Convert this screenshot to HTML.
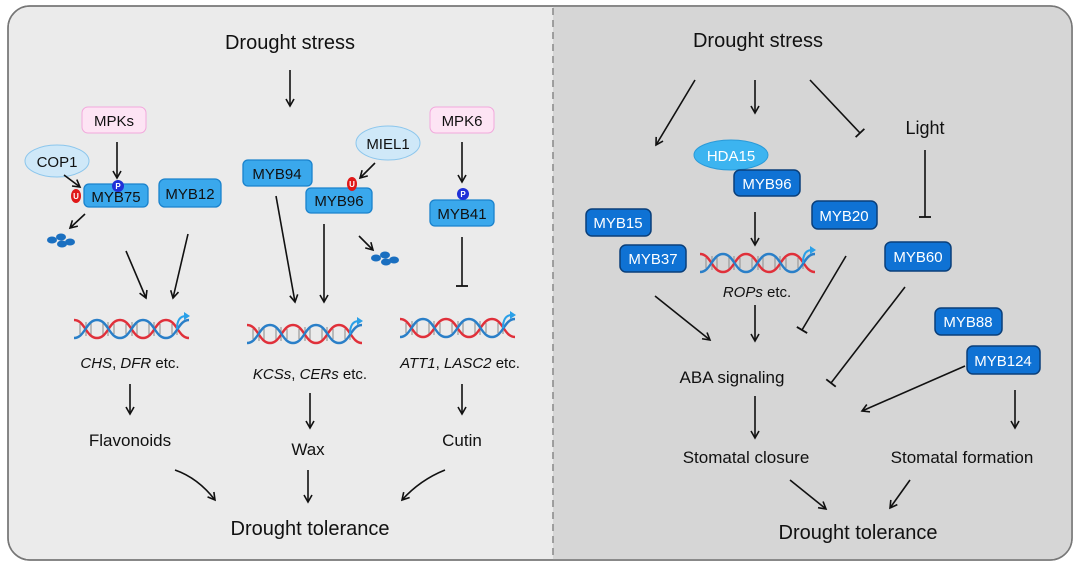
<!DOCTYPE html>
<html><head><meta charset="utf-8"><style>
html,body{margin:0;padding:0;background:#fff;}
svg{display:block;font-family:"Liberation Sans",Arial,sans-serif;}
</style></head><body>
<svg width="1080" height="566" viewBox="0 0 1080 566" xmlns="http://www.w3.org/2000/svg">
<defs>
<marker id="ah" markerWidth="10" markerHeight="10" refX="8" refY="5" orient="auto" markerUnits="userSpaceOnUse">
<path d="M1,1 L8,5 L1,9" fill="none" stroke="#111" stroke-width="1.6"/></marker>
<marker id="tb" markerWidth="14" markerHeight="14" refX="7" refY="7" orient="auto" markerUnits="userSpaceOnUse">
<path d="M7,1 L7,13" stroke="#111" stroke-width="1.8"/></marker>
<g id="dna">
<g stroke="#999" stroke-width="1.2">
<path d="M6,8V18M12,6V20M17,7V19M29,7V19M34,6V20M40,8V18M52,8V18M58,6V20M63,7V19M75,7V19M80,6V20M86,8V18M98,8V18M103,7V19"/>
</g>
<path d="M0,4 C11,4 12,22 23,22 S35,4 46,4 S58,22 69,22 S81,4 92,4 S104,22 115,22" fill="none" stroke="#e0303a" stroke-width="2.4"/>
<path d="M0,22 C11,22 12,4 23,4 S35,22 46,22 S58,4 69,4 S81,22 92,22 S104,4 115,4" fill="none" stroke="#2a7fc8" stroke-width="2.4"/>
<path d="M103,13 C103,4 106,0 112,0" fill="none" stroke="#2aa0e8" stroke-width="2"/>
<path d="M110,-4 L116,0 L110,4Z" fill="#2aa0e8"/>
</g>
<g id="blob" fill="#1a6fc0">
<ellipse cx="0" cy="0" rx="5" ry="3.5"/><ellipse cx="9" cy="-3" rx="5" ry="3.5"/><ellipse cx="10" cy="4" rx="5" ry="3.5"/><ellipse cx="18" cy="2" rx="5" ry="3.5"/>
</g>
</defs>
<rect x="8" y="6" width="1064" height="554" rx="22" fill="#ebebeb" stroke="#777" stroke-width="1.5"/>
<path d="M553,6.75 L1050,6.75 Q1071.25,6.75 1071.25,28 L1071.25,538 Q1071.25,559.25 1050,559.25 L553,559.25Z" fill="#d6d6d6"/>
<rect x="8" y="6" width="1064" height="554" rx="22" fill="none" stroke="#777" stroke-width="1.5"/>
<line x1="553" y1="8" x2="553" y2="558" stroke="#888" stroke-width="1.5" stroke-dasharray="7,5"/>

<g font-size="20" fill="#111" text-anchor="middle">
<text x="290" y="49">Drought stress</text>
<text x="310" y="535">Drought tolerance</text>
<text x="758" y="47">Drought stress</text>
<text x="858" y="539">Drought tolerance</text>
</g>
<g font-size="17" fill="#111" text-anchor="middle">
<text x="130" y="446">Flavonoids</text>
<text x="308" y="455">Wax</text>
<text x="462" y="446">Cutin</text>
<text x="925" y="134" font-size="18">Light</text>
<text x="732" y="383">ABA signaling</text>
<text x="746" y="463">Stomatal closure</text>
<text x="962" y="463">Stomatal formation</text>
</g>
<g font-size="15" fill="#111" text-anchor="middle" font-style="italic">
<text x="130" y="368">CHS<tspan font-style="normal">, </tspan>DFR<tspan font-style="normal"> etc.</tspan></text>
<text x="310" y="379">KCSs<tspan font-style="normal">, </tspan>CERs<tspan font-style="normal"> etc.</tspan></text>
<text x="460" y="368">ATT1<tspan font-style="normal">, </tspan>LASC2<tspan font-style="normal"> etc.</tspan></text>
<text x="757" y="297">ROPs<tspan font-style="normal"> etc.</tspan></text>
</g>

<use href="#dna" x="74" y="316"/>
<use href="#dna" x="247" y="321"/>
<use href="#dna" x="400" y="315"/>
<use href="#dna" x="700" y="250"/>
<use href="#blob" x="52" y="240"/>
<use href="#blob" x="376" y="258"/>

<!-- left boxes -->
<g font-size="15" text-anchor="middle" fill="#111">
<rect x="82" y="107" width="64" height="26" rx="6" fill="#fde4f4" stroke="#f2a8dc"/>
<text x="114" y="126">MPKs</text>
<rect x="430" y="107" width="64" height="26" rx="6" fill="#fde4f4" stroke="#f2a8dc"/>
<text x="462" y="126">MPK6</text>
<ellipse cx="57" cy="161" rx="32" ry="16" fill="#cfe8f8" stroke="#8cc6ec"/>
<text x="57" y="167">COP1</text>
<ellipse cx="388" cy="143" rx="32" ry="17" fill="#cfe8f8" stroke="#8cc6ec"/>
<text x="388" y="149">MIEL1</text>
<g fill="#3aa8ec" stroke="#1a82cc" stroke-width="1.3">
<rect x="84" y="184" width="64" height="23" rx="5"/>
<rect x="159" y="179" width="62" height="28" rx="6"/>
<rect x="243" y="160" width="69" height="26" rx="5"/>
<rect x="306" y="188" width="66" height="25" rx="5"/>
<rect x="430" y="200" width="64" height="26" rx="5"/>
</g>
<text x="116" y="202">MYB75</text>
<text x="190" y="199">MYB12</text>
<text x="277" y="179">MYB94</text>
<text x="339" y="206">MYB96</text>
<text x="462" y="219">MYB41</text>
</g>
<g font-size="8" fill="#fff" text-anchor="middle" font-weight="bold">
<ellipse cx="118" cy="186" rx="6" ry="6" fill="#2030d8"/><text x="118" y="189">P</text>
<ellipse cx="463" cy="194" rx="6" ry="6" fill="#2030d8"/><text x="463" y="197">P</text>
<ellipse cx="76" cy="196" rx="5" ry="7" fill="#e01818"/><text x="76" y="199">U</text>
<ellipse cx="352" cy="184" rx="5" ry="7" fill="#e01818"/><text x="352" y="187">U</text>
</g>

<!-- right boxes -->
<g font-size="15" text-anchor="middle" fill="#fff">
<ellipse cx="731" cy="155" rx="37" ry="15" fill="#3cb4f0" stroke="#2a9ad8"/>
<text x="731" y="161">HDA15</text>
<g fill="#0f72d4" stroke="#0a3f7a" stroke-width="1.5">
<rect x="734" y="170" width="66" height="26" rx="6"/>
<rect x="586" y="209" width="65" height="27" rx="6"/>
<rect x="620" y="245" width="66" height="27" rx="6"/>
<rect x="812" y="201" width="65" height="28" rx="6"/>
<rect x="885" y="242" width="66" height="29" rx="6"/>
<rect x="935" y="308" width="67" height="27" rx="6"/>
<rect x="967" y="346" width="73" height="28" rx="6"/>
</g>
<text x="767" y="189">MYB96</text>
<text x="618" y="228">MYB15</text>
<text x="653" y="264">MYB37</text>
<text x="844" y="221">MYB20</text>
<text x="918" y="262">MYB60</text>
<text x="968" y="327">MYB88</text>
<text x="1003" y="366">MYB124</text>
</g>

<g stroke="#111" stroke-width="1.6" fill="none">
<!-- left arrows -->
<line x1="290" y1="70" x2="290" y2="106" marker-end="url(#ah)"/>
<line x1="117" y1="142" x2="117" y2="178" marker-end="url(#ah)"/>
<line x1="64" y1="175" x2="80" y2="187" marker-end="url(#ah)"/>
<line x1="85" y1="214" x2="70" y2="228" marker-end="url(#ah)"/>
<line x1="126" y1="251" x2="146" y2="298" marker-end="url(#ah)"/>
<line x1="188" y1="234" x2="173" y2="298" marker-end="url(#ah)"/>
<line x1="276" y1="196" x2="295" y2="302" marker-end="url(#ah)"/>
<line x1="324" y1="224" x2="324" y2="302" marker-end="url(#ah)"/>
<line x1="375" y1="163" x2="360" y2="178" marker-end="url(#ah)"/>
<line x1="359" y1="236" x2="373" y2="250" marker-end="url(#ah)"/>
<line x1="462" y1="142" x2="462" y2="182" marker-end="url(#ah)"/>
<line x1="462" y1="237" x2="462" y2="286" marker-end="url(#tb)"/>
<line x1="130" y1="384" x2="130" y2="414" marker-end="url(#ah)"/>
<line x1="310" y1="393" x2="310" y2="428" marker-end="url(#ah)"/>
<line x1="462" y1="384" x2="462" y2="414" marker-end="url(#ah)"/>
<path d="M175,470 Q198,478 215,500" marker-end="url(#ah)"/>
<line x1="308" y1="470" x2="308" y2="502" marker-end="url(#ah)"/>
<path d="M445,470 Q420,480 402,500" marker-end="url(#ah)"/>
<!-- right arrows -->
<line x1="695" y1="80" x2="656" y2="145" marker-end="url(#ah)"/>
<line x1="755" y1="80" x2="755" y2="113" marker-end="url(#ah)"/>
<line x1="810" y1="80" x2="860" y2="133" marker-end="url(#tb)"/>
<line x1="925" y1="150" x2="925" y2="217" marker-end="url(#tb)"/>
<line x1="755" y1="212" x2="755" y2="245" marker-end="url(#ah)"/>
<line x1="655" y1="296" x2="710" y2="340" marker-end="url(#ah)"/>
<line x1="755" y1="305" x2="755" y2="341" marker-end="url(#ah)"/>
<line x1="846" y1="256" x2="802" y2="330" marker-end="url(#tb)"/>
<line x1="905" y1="287" x2="831" y2="383" marker-end="url(#tb)"/>
<line x1="965" y1="366" x2="862" y2="411" marker-end="url(#ah)"/>
<line x1="1015" y1="390" x2="1015" y2="428" marker-end="url(#ah)"/>
<line x1="755" y1="396" x2="755" y2="438" marker-end="url(#ah)"/>
<line x1="790" y1="480" x2="826" y2="509" marker-end="url(#ah)"/>
<line x1="910" y1="480" x2="890" y2="508" marker-end="url(#ah)"/>
</g>
</svg>
</body></html>
